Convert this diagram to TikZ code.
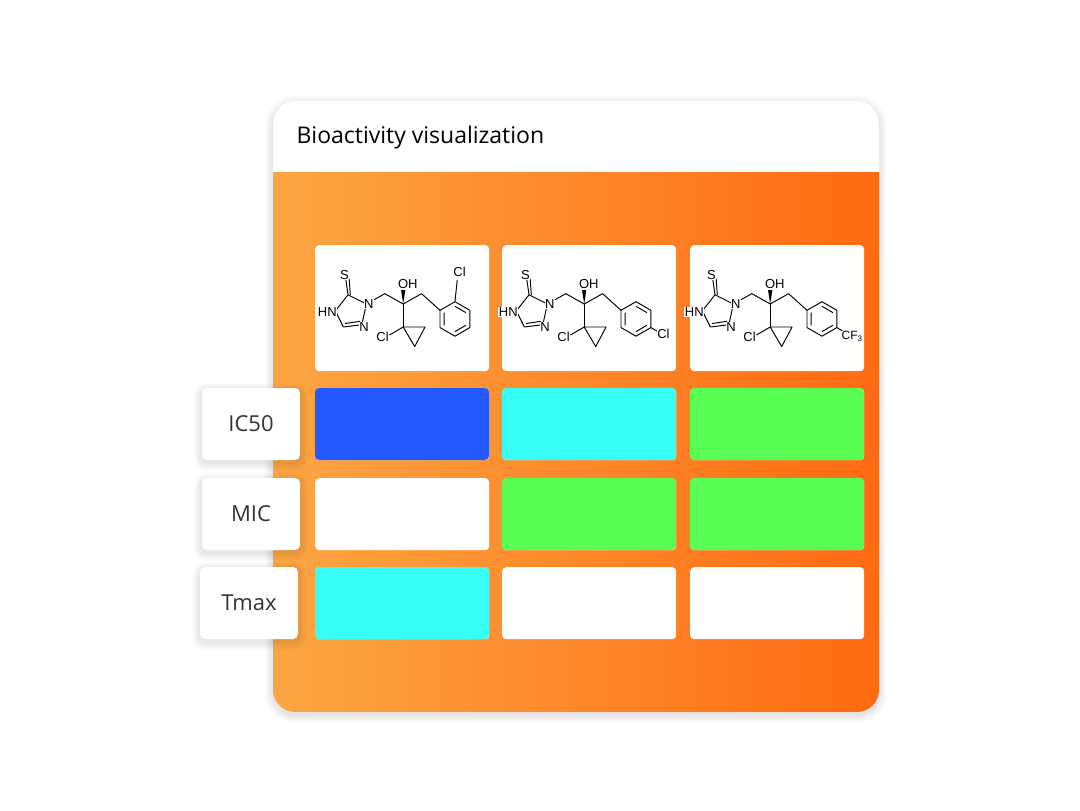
\documentclass[tikz,border=0pt]{standalone}
\usepackage{fontspec}
\setmainfont{Open Sans}
\newfontfamily\molfont{Liberation Sans}
\usetikzlibrary{calc}
\definecolor{cblue}{HTML}{2459FF}
\definecolor{ccyan}{HTML}{38FFF6}
\definecolor{cgreen}{HTML}{58FF52}
\definecolor{olight}{HTML}{FCA643}
\definecolor{odark}{HTML}{FF6A12}
\tikzset{
  cell/.style={rounded corners=4pt,draw=none},
  lab/.style={fill=white,rounded corners=5pt,font=\fontsize{22}{24}\selectfont,text=black!80},
  bond/.style={line width=0.95pt,line join=round},
  atm/.style={font=\molfont\fontsize{13}{14}\selectfont,inner sep=0.5pt,fill=white},
  mol/.pic={
    \coordinate (c5) at (40,52); \coordinate (n1) at (56,60); \coordinate (n2) at (52,78);
    \coordinate (c3) at (36,80); \coordinate (n4) at (29,66);
    \draw[bond] (c5)--(n1)--(n2); \draw[bond] (c3)--(n4)--(c5);
    \draw[bond] (n2)--(c3); \draw[bond] ($(n2)+(-1.5,-3)$)--($(c3)+(1.5,-3)$);
    \draw[bond] (c5)--(38,38); \draw[bond] (42,52)--(41,38);
    \draw[bond] (n1)--(72,51)--(88,60)--(104,51)--(120,65.5);
    \fill (88,60)--(86,47)--(90,47)--cycle;
    \draw[bond] (88,60)--(88,80);
    \draw[bond] (88,80)--(98,97)--(107,80)--cycle;
    \draw[bond] (88,80)--(76,87);
    \draw[bond] (120,65.5)--(133,58)--(146,65.5)--(146,80.5)--(133,88)--(120,80.5)--cycle;
    \draw[bond] (123.5,67.5)--(123.5,78.5) (133,84)--(142.5,78.5) (133,62)--(142.5,67.5);
    \node[atm] at (37,35) {S}; \node[atm] at (58,60) {N}; \node[atm] at (54,80) {N};
    \node[atm] at (22,67) {HN}; \node[atm] at (92,43) {OH}; \node[atm] at (70,89) {Cl};
  }
}
\newcommand\softshadow[5]{% x1 y1 x2 y2 radius
  \foreach \k in {1,...,8}{
    \fill[black,opacity=0.012,rounded corners=#5pt+\k pt] (#1-\k,#2-\k+3) rectangle (#3+\k,#4+\k+3);
  }}
\begin{document}
\begin{tikzpicture}[x=1pt,y=-1pt]
\useasboundingbox (0,0) rectangle (1080,811);
\fill[white] (0,0) rectangle (1080,811);
% main card
\softshadow{273}{101}{879}{712}{22}
\fill[white,rounded corners=22pt] (273,101) rectangle (879,712);
\begin{scope}
\clip[rounded corners=22pt] (273,90) rectangle (879,712);
\shade[shading angle=45,left color=olight,right color=odark] (273,172) rectangle (879,712);
\end{scope}
\node[anchor=west,font=\fontsize{23}{25}\selectfont] (title) at (293,138) {Bioactivity visualization};
% molecule cards
\foreach \x/\n in {315/m1,502/m2,690/m3}{
  \node[fill=white,rounded corners=4pt,minimum width=174pt,minimum height=126pt,anchor=north west,inner sep=0] (\n) at (\x,245) {};
}
\begin{scope}[shift={(315-13,245-10)}]
\begin{scope}[x=1.15pt,y=-1.15pt]
\pic at (0,0) {mol};
\draw[bond] (133,58)--(135,39);
\node[atm] at (137,32) {Cl};
\end{scope}\end{scope}
\begin{scope}[shift={(502-19,245-10)}]
\begin{scope}[x=1.15pt,y=-1.15pt]
\pic at (0,0) {mol};
\draw[bond] (146,80.5)--(152,84);
\node[atm,anchor=west] at (151,86) {Cl};
\end{scope}\end{scope}
\begin{scope}[shift={(690-21,245-10)}]
\begin{scope}[x=1.15pt,y=-1.15pt]
\pic at (0,0) {mol};
\draw[bond] (146,80.5)--(151,83.5);
\node[atm,anchor=west,font=\molfont\fontsize{12}{13}\selectfont] at (149.5,88) {CF\textsubscript{3}};
\end{scope}\end{scope}
% grid cells
\foreach \y [count=\i] in {388,478,567}{
  \foreach \x [count=\j] in {315,502,690}{
    \node[cell,minimum width=174pt,minimum height=72pt,anchor=north west,inner sep=0,fill=white] (c\i\j) at (\x,\y) {};
  }
}
\fill[cblue,rounded corners=4pt] (315,388) rectangle (489,460);
\fill[ccyan,rounded corners=4pt] (502,388) rectangle (676,460);
\fill[cgreen,rounded corners=4pt] (690,388) rectangle (864,460);
\fill[cgreen,rounded corners=4pt] (502,478) rectangle (676,550);
\fill[cgreen,rounded corners=4pt] (690,478) rectangle (864,550);
\fill[ccyan,rounded corners=4pt] (315,567) rectangle (489,639);
% row labels
\softshadow{202}{388}{300}{460}{5}
\softshadow{202}{478}{300}{550}{5}
\softshadow{200}{567}{298}{639}{5}
\node[lab,minimum width=98pt,minimum height=72pt,inner sep=0] (ic) at (251,424) {IC50};
\node[lab,minimum width=98pt,minimum height=72pt,inner sep=0] (mic) at (251,514) {MIC};
\node[lab,minimum width=98pt,minimum height=72pt,inner sep=0] (tm) at (249,603) {Tmax};
\end{tikzpicture}
\end{document}
